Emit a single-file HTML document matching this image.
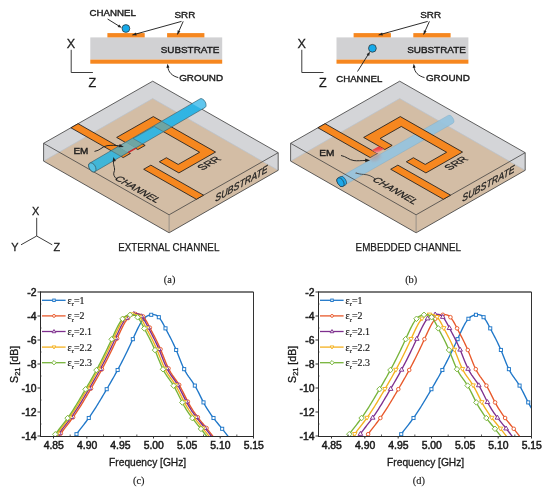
<!DOCTYPE html>
<html><head><meta charset="utf-8"><title>SRR channel figure</title>
<style>
html,body{margin:0;padding:0;background:#fff;}
svg{display:block;}
text{font-family:"Liberation Sans",Arial,sans-serif;fill:#1c1c1c;stroke:#1c1c1c;stroke-width:0.28px;}
.t9{font-size:9.8px;}
.t10{font-size:9.5px;stroke-width:0.4px;}
.t9i{font-size:9.8px;font-style:italic;}
.t11{font-size:12.6px;}
.tk{font-size:10.4px;stroke-width:0.5px;}
.al{font-size:10.2px;stroke-width:0.32px;}
.lg{font-family:"Liberation Serif","Times New Roman",serif;font-size:9.9px;stroke-width:0.2px;}
.cap{font-family:"Liberation Serif","Times New Roman",serif;font-size:10.4px;stroke-width:0.15px;}
</style></head>
<body>
<svg width="550" height="490" viewBox="0 0 550 490">
<defs>
<filter id="blur1" x="-50%" y="-50%" width="200%" height="200%"><feGaussianBlur stdDeviation="1.6"/></filter>
<linearGradient id="emgrad" x1="0" y1="0" x2="0.3" y2="1"><stop offset="0" stop-color="#e8262a"/><stop offset="0.55" stop-color="#f04a48"/><stop offset="1" stop-color="#f0a0a0"/></linearGradient>
</defs>
<rect width="550" height="490" fill="#fff"/>
<rect x="90.3" y="37.4" width="131.9" height="22.2" fill="#d1d1d3"/>
<rect x="90.3" y="59.6" width="131.9" height="4.1" fill="#f6871f"/>
<rect x="107.4" y="33.1" width="37.3" height="4.3" fill="#f6871f"/>
<rect x="167.1" y="33.1" width="37.3" height="4.3" fill="#f6871f"/>
<text x="160.7" y="52.9" class="t10" textLength="58.6" lengthAdjust="spacingAndGlyphs">SUBSTRATE</text>
<text x="179.2" y="80.9" class="t10" textLength="43.9" lengthAdjust="spacingAndGlyphs">GROUND</text>
<text x="174.5" y="18.2" class="t10" textLength="20.8" lengthAdjust="spacingAndGlyphs">SRR</text>
<line x1="181.5" y1="21.4" x2="132.4" y2="35" stroke="#222" stroke-width="0.95"/>
<polygon points="132.4,35 135.85,32.49 136.66,35.38" fill="#222"/>
<line x1="183.2" y1="21.4" x2="177.4" y2="34.5" stroke="#222" stroke-width="0.95"/>
<polygon points="177.4,34.5 177.65,30.24 180.39,31.45" fill="#222"/>
<path d="M178.3,77.6 C172,76 168.3,72 167.9,67" fill="none" stroke="#222" stroke-width="0.95"/>
<polygon points="167.5,63.8 169.46,67.59 166.48,67.95" fill="#222"/>
<polyline points="71.2,49.8 71.2,72.5 92.9,72.5" fill="none" stroke="#333" stroke-width="0.95"/>
<text x="66.8" y="48.4" class="t11">X</text>
<text x="88.5" y="86.6" class="t11">Z</text>
<circle cx="125.9" cy="28.5" r="3.9" fill="#16aaea" stroke="#2a2a2a" stroke-width="0.7"/>
<text x="89.5" y="16.4" class="t10" textLength="46.4" lengthAdjust="spacingAndGlyphs">CHANNEL</text>
<line x1="107.6" y1="19" x2="119.5" y2="26.4" stroke="#222" stroke-width="0.95"/>
<polygon points="121.8,27.8 117.61,26.97 119.19,24.42" fill="#222"/>
<rect x="336.5" y="37.4" width="131.9" height="22.2" fill="#d1d1d3"/>
<rect x="336.5" y="59.6" width="131.9" height="4.1" fill="#f6871f"/>
<rect x="353.6" y="33.1" width="37.3" height="4.3" fill="#f6871f"/>
<rect x="413.3" y="33.1" width="37.3" height="4.3" fill="#f6871f"/>
<text x="407.2" y="52.9" class="t10" textLength="58.6" lengthAdjust="spacingAndGlyphs">SUBSTRATE</text>
<text x="425.9" y="80.9" class="t10" textLength="43.9" lengthAdjust="spacingAndGlyphs">GROUND</text>
<text x="420.3" y="18.2" class="t10" textLength="20.8" lengthAdjust="spacingAndGlyphs">SRR</text>
<line x1="427.7" y1="21.4" x2="378.6" y2="35" stroke="#222" stroke-width="0.95"/>
<polygon points="378.6,35 382.05,32.49 382.86,35.38" fill="#222"/>
<line x1="429.4" y1="21.4" x2="423.6" y2="34.5" stroke="#222" stroke-width="0.95"/>
<polygon points="423.6,34.5 423.85,30.24 426.59,31.45" fill="#222"/>
<path d="M424.5,77.6 C418.2,76 414.5,72 414.1,67" fill="none" stroke="#222" stroke-width="0.95"/>
<polygon points="413.7,63.8 415.66,67.59 412.68,67.95" fill="#222"/>
<polyline points="301.8,49.8 301.8,72.5 323.5,72.5" fill="none" stroke="#333" stroke-width="0.95"/>
<text x="297.4" y="48.4" class="t11">X</text>
<text x="319.1" y="86.6" class="t11">Z</text>
<circle cx="372.4" cy="48.3" r="3.9" fill="#16aaea" stroke="#2a2a2a" stroke-width="0.7"/>
<text x="336.3" y="81.5" class="t10" textLength="46" lengthAdjust="spacingAndGlyphs">CHANNEL</text>
<line x1="357.5" y1="71.5" x2="368.5" y2="54" stroke="#222" stroke-width="0.95"/>
<polygon points="370,51.7 369.13,55.88 366.6,54.28" fill="#222"/>
<polygon points="152.7,81.2 278.2,152.7 278.2,170.3 169.1,232.8 43.6,161.1 43.6,143.3" fill="#d4d5d8"/>
<polygon points="152.7,98.5 278.2,170.3 169.1,232.8 43.6,161.1" fill="#d3bda5"/>
<polygon points="43.6,143.3 169.1,214.8 169.1,232.8 43.6,161.1" fill="#d5bfa3" opacity="0.0"/>
<polyline points="43.6,161.1 152.7,98.5 278.2,170.3" fill="none" stroke="#b9c3cf" stroke-width="0.7"/>
<polygon points="152.7,81.2 278.2,152.7 278.2,170.3 169.1,232.8 43.6,161.1 43.6,143.3" fill="none" stroke="#3b3b3b" stroke-width="0.8" stroke-linejoin="round"/>
<polyline points="43.6,143.3 169.1,214.8 278.2,152.7" fill="none" stroke="#3b3b3b" stroke-width="0.75"/>
<line x1="169.1" y1="214.8" x2="169.1" y2="232.8" stroke="#8a8580" stroke-width="0.8"/>
<polygon points="78.08,123.68 130.41,153.49 123.21,157.59 70.88,127.78" fill="#f6871f" stroke="#1e1e1e" stroke-width="0.85" stroke-linejoin="round"/>
<polygon points="150.87,165.15 203.58,195.18 196.38,199.27 143.66,169.25" fill="#f6871f" stroke="#1e1e1e" stroke-width="0.85" stroke-linejoin="round"/>
<polygon points="153.31,116.59 215.56,152.05 178.9,172.92 159.32,161.76 166.41,157.73 178.21,164.45 199.59,152.28 154.29,126.46 133.12,138.51 145.17,145.38 137.86,149.54 116.65,137.45" fill="#f6871f" stroke="#1e1e1e" stroke-width="0.85" stroke-linejoin="round"/>
<linearGradient id="chgrad" gradientUnits="userSpaceOnUse" x1="92.3" y1="167.4" x2="202.5" y2="103.2"><stop offset="0" stop-color="#42b6d6"/><stop offset="1" stop-color="#2db4e6"/></linearGradient>
<clipPath id="chclip"><path d="M94.82,171.72 L205.02,107.52 A5,3 59.78 0 0 199.98,98.88 L89.78,163.08 A5,3 59.78 0 0 94.82,171.72 Z"/></clipPath>
<path d="M94.82,171.72 L205.02,107.52 A5,3 59.78 0 0 199.98,98.88 L89.78,163.08 A5,3 59.78 0 0 94.82,171.72 Z" fill="url(#chgrad)"/>
<g clip-path="url(#chclip)">
<polygon points="152.7,81.2 352.7,195.14 352.7,21.2 152.7,21.2" fill="#60c6ee"/>
<polygon points="78.08,123.68 130.41,153.49 123.21,157.59 70.88,127.78" fill="#6ea5a3" stroke="#4a6a70" stroke-width="0.6"/>
<polygon points="150.87,165.15 203.58,195.18 196.38,199.27 143.66,169.25" fill="#6ea5a3" stroke="#4a6a70" stroke-width="0.6"/>
<polygon points="153.31,116.59 215.56,152.05 178.9,172.92 159.32,161.76 166.41,157.73 178.21,164.45 199.59,152.28 154.29,126.46 133.12,138.51 145.17,145.38 137.86,149.54 116.65,137.45" fill="#6ea5a3" stroke="#4a6a70" stroke-width="0.6"/>
<polygon points="123.25,140.84 137.44,148.92 129.58,153.39 115.4,145.31" fill="#7fb0b0"/>
</g>
<path d="M94.82,171.72 L205.02,107.52 A5,3 59.78 0 0 199.98,98.88 L89.78,163.08 A5,3 59.78 0 0 94.82,171.72 Z" fill="none" stroke="#3a5560" stroke-width="0.6"/>
<polygon points="135.3,147.71 136.68,148.49 128.94,152.9 127.56,152.11" fill="#cc2a2a"/>
<ellipse cx="92.3" cy="167.4" rx="5.0" ry="3.1" transform="rotate(59.78 92.3 167.4)" fill="#58c2e2" stroke="#34505a" stroke-width="0.65"/>
<polygon points="399.7,81.2 525.2,152.7 525.2,170.3 416.1,232.8 290.6,161.1 290.6,143.3" fill="#d4d5d8"/>
<polygon points="399.7,98.5 525.2,170.3 416.1,232.8 290.6,161.1" fill="#d3bda5"/>
<polygon points="290.6,143.3 416.1,214.8 416.1,232.8 290.6,161.1" fill="#d5bfa3" opacity="0.0"/>
<polyline points="290.6,161.1 399.7,98.5 525.2,170.3" fill="none" stroke="#b9c3cf" stroke-width="0.7"/>
<path d="M343.78,185.6 L452.78,123.4 A4.6,2.8 60.29 0 0 448.22,115.4 L339.22,177.6 A4.6,2.8 60.29 0 0 343.78,185.6 Z" fill="#95c3de" fill-opacity="0.92" stroke="#7aa8c4" stroke-width="0.4"/>
<polygon points="399.7,81.2 525.2,152.7 525.2,170.3 416.1,232.8 290.6,161.1 290.6,143.3" fill="none" stroke="#3b3b3b" stroke-width="0.8" stroke-linejoin="round"/>
<polyline points="290.6,143.3 416.1,214.8 525.2,152.7" fill="none" stroke="#3b3b3b" stroke-width="0.75"/>
<line x1="416.1" y1="214.8" x2="416.1" y2="232.8" stroke="#8a8580" stroke-width="0.8"/>
<polygon points="325.08,123.68 377.41,153.49 370.21,157.59 317.88,127.78" fill="#f6871f" stroke="#1e1e1e" stroke-width="0.85" stroke-linejoin="round"/>
<polygon points="397.87,165.15 450.58,195.18 443.38,199.27 390.67,169.25" fill="#f6871f" stroke="#1e1e1e" stroke-width="0.85" stroke-linejoin="round"/>
<polygon points="400.31,116.59 462.56,152.05 425.9,172.92 406.32,161.76 413.41,157.73 425.21,164.45 446.59,152.28 401.29,126.46 380.12,138.51 392.17,145.38 384.86,149.54 363.65,137.45" fill="#f6871f" stroke="#1e1e1e" stroke-width="0.85" stroke-linejoin="round"/>
<ellipse cx="375.53" cy="157.07" rx="5.5" ry="3.4" transform="rotate(-30 375.53 157.07)" fill="#b49a9a" opacity="0.6" filter="url(#blur1)"/>
<polygon points="378.96,146.18 384.11,149.11 376.91,153.21 371.76,150.27" fill="url(#emgrad)"/>
<path d="M342.89,186.45 L345.32,185.06 A4.9,2.9 60.29 0 0 340.46,176.55 L338.03,177.94 A4.9,2.9 60.29 0 0 342.89,186.45 Z" fill="#1ea8e8" stroke="#24323c" stroke-width="0.6"/>
<ellipse cx="340.46" cy="182.19" rx="4.9" ry="2.9" transform="rotate(60.29 340.46 182.19)" fill="#1ea8e8" stroke="#24323c" stroke-width="0.6"/>
<text x="73.4" y="153.7" class="t10" textLength="14.9" lengthAdjust="spacingAndGlyphs">EM</text>
<path d="M94.5,151.4 C100,150.6 102,146.6 107,145.7 C111,145.1 115.5,145.2 120,146" fill="none" stroke="#222" stroke-width="0.95"/>
<polygon points="123.8,147 118.69,147.34 119.72,143.9" fill="#222"/>
<path d="M114,160.5 C112,164 116,168 114,172 C113,174.5 114.5,177 116.2,178.5" fill="none" stroke="#222" stroke-width="0.95"/>
<polygon points="113.4,157 115.93,160.98 112.6,161.65" fill="#222"/>
<text transform="matrix(0.8691,0.4952,-0.8692,0.4947,134.9,191.1)" text-anchor="middle" class="t9" style="font-size:10.2px">CHANNEL</text>
<text transform="matrix(0.8692,-0.4947,0.8691,0.4952,212.3,165)" text-anchor="middle" class="t9" style="font-size:10.6px">SRR</text>
<text transform="matrix(0.8675,-0.4974,0,1,241.5,187)" text-anchor="middle" class="t9i" style="font-size:10.2px">SUBSTRATE</text>
<text x="319.2" y="156.3" class="t10" textLength="15.1" lengthAdjust="spacingAndGlyphs">EM</text>
<path d="M341,155.5 C346,156.3 349,160 354,160.6 C357,161 362,160.6 366,160.4" fill="none" stroke="#222" stroke-width="0.95"/>
<polygon points="370,160.2 365.28,162.19 365.13,158.59" fill="#222"/>
<path d="M375.5,179.2 C372,176.2 368.5,174.6 363.5,174.4 C360.5,174.3 358.5,173.7 356.5,173.2" fill="none" stroke="#444" stroke-width="0.9"/>
<circle cx="356.3" cy="173.2" r="0.9" fill="#777"/>
<text transform="matrix(0.8691,0.4952,-0.8692,0.4947,392.6,192.4)" text-anchor="middle" class="t9" style="font-size:10.2px">CHANNEL</text>
<text transform="matrix(0.8692,-0.4947,0.8691,0.4952,459.3,165)" text-anchor="middle" class="t9" style="font-size:10.6px">SRR</text>
<text transform="matrix(0.8675,-0.4974,0,1,488.5,187)" text-anchor="middle" class="t9i" style="font-size:10.2px">SUBSTRATE</text>
<polyline points="36.7,217.8 36.7,236 21,244.8" fill="none" stroke="#333" stroke-width="0.95"/>
<line x1="36.7" y1="236" x2="52.2" y2="244.8" stroke="#333" stroke-width="0.95"/>
<text x="35.6" y="215.2" text-anchor="middle" class="t9" style="font-size:10.9px">X</text>
<text x="14.9" y="250.9" text-anchor="middle" class="t9" style="font-size:10.9px">Y</text>
<text x="56.8" y="250.9" text-anchor="middle" class="t9" style="font-size:10.9px">Z</text>
<text x="118.2" y="250.8" class="t10" style="font-size:10.1px;stroke-width:0.25px" textLength="101.2" lengthAdjust="spacingAndGlyphs">EXTERNAL CHANNEL</text>
<text x="355.6" y="250.7" class="t10" style="font-size:10.1px;stroke-width:0.25px" textLength="105.4" lengthAdjust="spacingAndGlyphs">EMBEDDED CHANNEL</text>
<text x="169.6" y="283.2" text-anchor="middle" class="cap">(a)</text>
<text x="411.2" y="283.2" text-anchor="middle" class="cap">(b)</text>
<clipPath id="clip0"><rect x="40" y="292" width="213.5" height="144"/></clipPath>
<g clip-path="url(#clip0)">
<polyline points="51.23,470.8 52.22,469.65 53.21,468.45 54.2,467.2 55.19,465.91 56.17,464.58 57.16,463.22 58.15,461.82 59.14,460.39 60.13,458.94 61.12,457.47 62.1,455.98 63.09,454.47 64.08,452.95 65.07,451.42 66.06,449.89 67.05,448.35 68.03,446.82 69.02,445.29 70.01,443.76 71,442.25 71.99,440.76 72.98,439.28 73.96,437.82 74.95,436.39 75.94,434.98 76.93,433.61 77.92,432.27 78.91,430.95 79.89,429.65 80.88,428.37 81.87,427.09 82.86,425.82 83.85,424.55 84.83,423.27 85.82,421.98 86.81,420.67 87.8,419.33 88.79,417.97 89.78,416.57 90.76,415.14 91.75,413.68 92.74,412.2 93.73,410.68 94.72,409.14 95.71,407.58 96.69,405.99 97.68,404.39 98.67,402.77 99.66,401.13 100.65,399.48 101.64,397.82 102.62,396.15 103.61,394.47 104.6,392.79 105.59,391.1 106.58,389.41 107.57,387.72 108.55,386.03 109.54,384.33 110.53,382.63 111.52,380.92 112.51,379.2 113.49,377.46 114.48,375.71 115.47,373.94 116.46,372.15 117.45,370.34 118.44,368.51 119.42,366.65 120.41,364.77 121.4,362.86 122.39,360.93 123.38,358.97 124.37,357 125.35,355 126.34,352.98 127.33,350.93 128.32,348.87 129.31,346.78 130.3,344.67 131.28,342.54 132.27,340.39 133.26,338.22 134.25,336.04 135.24,333.87 136.23,331.73 137.21,329.65 138.2,327.63 139.19,325.72 140.18,323.92 141.17,322.25 142.16,320.75 143.14,319.42 144.13,318.29 145.12,317.37 146.11,316.63 147.1,316.04 148.08,315.59 149.07,315.25 150.06,315.01 151.05,314.83 152.04,314.7 153.03,314.64 154.01,314.67 155,314.83 155.99,315.14 156.98,315.65 157.97,316.37 158.96,317.33 159.94,318.56 160.93,320.01 161.92,321.65 162.91,323.41 163.9,325.27 164.89,327.17 165.87,329.08 166.86,330.96 167.85,332.84 168.84,334.71 169.83,336.61 170.82,338.53 171.8,340.49 172.79,342.51 173.78,344.59 174.77,346.75 175.76,349 176.74,351.35 177.73,353.78 178.72,356.27 179.71,358.77 180.7,361.24 181.69,363.65 182.67,365.95 183.66,368.12 184.65,370.11 185.64,371.92 186.63,373.58 187.62,375.13 188.6,376.58 189.59,377.97 190.58,379.33 191.57,380.7 192.56,382.09 193.55,383.55 194.53,385.11 195.52,386.78 196.51,388.57 197.5,390.45 198.49,392.39 199.48,394.38 200.46,396.38 201.45,398.38 202.44,400.35 203.43,402.26 204.42,404.1 205.4,405.86 206.39,407.54 207.38,409.16 208.37,410.72 209.36,412.22 210.35,413.67 211.33,415.07 212.32,416.43 213.31,417.75 214.3,419.04 215.29,420.31 216.28,421.55 217.26,422.78 218.25,423.99 219.24,425.2 220.23,426.41 221.22,427.62 222.21,428.85 223.19,430.08 224.18,431.34 225.17,432.6 226.16,433.87 227.15,435.16 228.14,436.45 229.12,437.75 230.11,439.06 231.1,440.37 232.09,441.69 233.08,443.01 234.07,444.33 235.05,445.65 236.04,446.97 237.03,448.29 238.02,449.61 239.01,450.93 239.99,452.24 240.98,453.54 241.97,454.84 242.96,456.12 243.95,457.4 244.94,458.67 245.92,459.93 246.91,461.17 247.9,462.4" fill="none" stroke="#1f77c9" stroke-width="1.35" stroke-linejoin="round"/>
<rect x="74.95" y="432.65" width="3.1" height="3.1" fill="#fff" stroke="#1f77c9" stroke-width="0.95"/>
<rect x="87.22" y="416.45" width="3.1" height="3.1" fill="#fff" stroke="#1f77c9" stroke-width="0.95"/>
<rect x="105.15" y="387.65" width="3.1" height="3.1" fill="#fff" stroke="#1f77c9" stroke-width="0.95"/>
<rect x="116.08" y="368.45" width="3.1" height="3.1" fill="#fff" stroke="#1f77c9" stroke-width="0.95"/>
<rect x="131.28" y="337.61" width="3.1" height="3.1" fill="#fff" stroke="#1f77c9" stroke-width="0.95"/>
<rect x="142.15" y="317.21" width="3.1" height="3.1" fill="#fff" stroke="#1f77c9" stroke-width="0.95"/>
<rect x="149.68" y="313.25" width="3.1" height="3.1" fill="#fff" stroke="#1f77c9" stroke-width="0.95"/>
<rect x="157.28" y="315.65" width="3.1" height="3.1" fill="#fff" stroke="#1f77c9" stroke-width="0.95"/>
<rect x="163.95" y="326.81" width="3.1" height="3.1" fill="#fff" stroke="#1f77c9" stroke-width="0.95"/>
<rect x="174.62" y="348.41" width="3.1" height="3.1" fill="#fff" stroke="#1f77c9" stroke-width="0.95"/>
<rect x="182.62" y="367.61" width="3.1" height="3.1" fill="#fff" stroke="#1f77c9" stroke-width="0.95"/>
<rect x="193.28" y="384.05" width="3.1" height="3.1" fill="#fff" stroke="#1f77c9" stroke-width="0.95"/>
<rect x="201.95" y="400.85" width="3.1" height="3.1" fill="#fff" stroke="#1f77c9" stroke-width="0.95"/>
<rect x="211.95" y="416.45" width="3.1" height="3.1" fill="#fff" stroke="#1f77c9" stroke-width="0.95"/>
<rect x="220.62" y="427.25" width="3.1" height="3.1" fill="#fff" stroke="#1f77c9" stroke-width="0.95"/>
<polyline points="35.57,470.08 36.55,468.93 37.54,467.73 38.53,466.48 39.52,465.19 40.51,463.86 41.5,462.5 42.48,461.1 43.47,459.67 44.46,458.22 45.45,456.75 46.44,455.26 47.43,453.75 48.41,452.23 49.4,450.7 50.39,449.17 51.38,447.63 52.37,446.1 53.36,444.57 54.34,443.04 55.33,441.53 56.32,440.04 57.31,438.56 58.3,437.1 59.29,435.67 60.27,434.26 61.26,432.89 62.25,431.55 63.24,430.23 64.23,428.93 65.21,427.65 66.2,426.37 67.19,425.1 68.18,423.83 69.17,422.55 70.16,421.26 71.14,419.95 72.13,418.61 73.12,417.25 74.11,415.85 75.1,414.42 76.09,412.96 77.07,411.48 78.06,409.96 79.05,408.42 80.04,406.86 81.03,405.27 82.02,403.67 83,402.05 83.99,400.41 84.98,398.76 85.97,397.1 86.96,395.43 87.95,393.75 88.93,392.07 89.92,390.38 90.91,388.69 91.9,387 92.89,385.31 93.88,383.61 94.86,381.91 95.85,380.2 96.84,378.48 97.83,376.74 98.82,374.99 99.8,373.22 100.79,371.43 101.78,369.62 102.77,367.79 103.76,365.93 104.75,364.05 105.73,362.14 106.72,360.21 107.71,358.25 108.7,356.28 109.69,354.28 110.68,352.26 111.66,350.21 112.65,348.15 113.64,346.06 114.63,343.95 115.62,341.82 116.61,339.67 117.59,337.5 118.58,335.32 119.57,333.15 120.56,331.01 121.55,328.93 122.54,326.91 123.52,325 124.51,323.2 125.5,321.53 126.49,320.03 127.48,318.7 128.46,317.57 129.45,316.65 130.44,315.91 131.43,315.32 132.42,314.87 133.41,314.53 134.39,314.29 135.38,314.11 136.37,313.98 137.36,313.92 138.35,313.95 139.34,314.11 140.32,314.42 141.31,314.93 142.3,315.65 143.29,316.61 144.28,317.84 145.27,319.29 146.25,320.93 147.24,322.69 148.23,324.55 149.22,326.45 150.21,328.36 151.2,330.24 152.18,332.12 153.17,333.99 154.16,335.89 155.15,337.81 156.14,339.77 157.12,341.79 158.11,343.87 159.1,346.03 160.09,348.28 161.08,350.63 162.07,353.06 163.05,355.55 164.04,358.05 165.03,360.52 166.02,362.93 167.01,365.23 168,367.4 168.98,369.39 169.97,371.2 170.96,372.86 171.95,374.41 172.94,375.86 173.93,377.25 174.91,378.61 175.9,379.98 176.89,381.37 177.88,382.83 178.87,384.39 179.86,386.06 180.84,387.85 181.83,389.73 182.82,391.67 183.81,393.66 184.8,395.66 185.79,397.66 186.77,399.63 187.76,401.54 188.75,403.38 189.74,405.14 190.73,406.82 191.71,408.44 192.7,410 193.69,411.5 194.68,412.95 195.67,414.35 196.66,415.71 197.64,417.03 198.63,418.32 199.62,419.59 200.61,420.83 201.6,422.06 202.59,423.27 203.57,424.48 204.56,425.69 205.55,426.9 206.54,428.13 207.53,429.36 208.52,430.62 209.5,431.88 210.49,433.15 211.48,434.44 212.47,435.73 213.46,437.03 214.45,438.34 215.43,439.65 216.42,440.97 217.41,442.29 218.4,443.61 219.39,444.93 220.37,446.25 221.36,447.57 222.35,448.89 223.34,450.21 224.33,451.52 225.32,452.82 226.3,454.12 227.29,455.4 228.28,456.68 229.27,457.95 230.26,459.21 231.25,460.45 232.23,461.68" fill="none" stroke="#e8592b" stroke-width="1.35" stroke-linejoin="round"/>
<circle cx="60.83" cy="433.48" r="1.8" fill="#fff" stroke="#e8592b" stroke-width="0.95"/>
<circle cx="73.1" cy="417.28" r="1.8" fill="#fff" stroke="#e8592b" stroke-width="0.95"/>
<circle cx="91.03" cy="388.48" r="1.8" fill="#fff" stroke="#e8592b" stroke-width="0.95"/>
<circle cx="101.97" cy="369.28" r="1.8" fill="#fff" stroke="#e8592b" stroke-width="0.95"/>
<circle cx="117.17" cy="338.44" r="1.8" fill="#fff" stroke="#e8592b" stroke-width="0.95"/>
<circle cx="128.03" cy="318.04" r="1.8" fill="#fff" stroke="#e8592b" stroke-width="0.95"/>
<circle cx="135.57" cy="314.08" r="1.8" fill="#fff" stroke="#e8592b" stroke-width="0.95"/>
<circle cx="143.17" cy="316.48" r="1.8" fill="#fff" stroke="#e8592b" stroke-width="0.95"/>
<circle cx="149.83" cy="327.64" r="1.8" fill="#fff" stroke="#e8592b" stroke-width="0.95"/>
<circle cx="160.5" cy="349.24" r="1.8" fill="#fff" stroke="#e8592b" stroke-width="0.95"/>
<circle cx="168.5" cy="368.44" r="1.8" fill="#fff" stroke="#e8592b" stroke-width="0.95"/>
<circle cx="179.17" cy="384.88" r="1.8" fill="#fff" stroke="#e8592b" stroke-width="0.95"/>
<circle cx="187.83" cy="401.68" r="1.8" fill="#fff" stroke="#e8592b" stroke-width="0.95"/>
<circle cx="197.83" cy="417.28" r="1.8" fill="#fff" stroke="#e8592b" stroke-width="0.95"/>
<circle cx="206.5" cy="428.08" r="1.8" fill="#fff" stroke="#e8592b" stroke-width="0.95"/>
<polyline points="33.9,469.84 34.89,468.69 35.88,467.49 36.86,466.24 37.85,464.95 38.84,463.62 39.83,462.26 40.82,460.86 41.81,459.43 42.79,457.98 43.78,456.51 44.77,455.02 45.76,453.51 46.75,451.99 47.74,450.46 48.72,448.93 49.71,447.39 50.7,445.86 51.69,444.33 52.68,442.8 53.67,441.29 54.65,439.8 55.64,438.32 56.63,436.86 57.62,435.43 58.61,434.02 59.6,432.65 60.58,431.31 61.57,429.99 62.56,428.69 63.55,427.41 64.54,426.13 65.52,424.86 66.51,423.59 67.5,422.31 68.49,421.02 69.48,419.71 70.47,418.37 71.45,417.01 72.44,415.61 73.43,414.18 74.42,412.72 75.41,411.24 76.4,409.72 77.38,408.18 78.37,406.62 79.36,405.03 80.35,403.43 81.34,401.81 82.33,400.17 83.31,398.52 84.3,396.86 85.29,395.19 86.28,393.51 87.27,391.83 88.26,390.14 89.24,388.45 90.23,386.76 91.22,385.07 92.21,383.37 93.2,381.67 94.18,379.96 95.17,378.24 96.16,376.5 97.15,374.75 98.14,372.98 99.13,371.19 100.11,369.38 101.1,367.55 102.09,365.69 103.08,363.81 104.07,361.9 105.06,359.97 106.04,358.01 107.03,356.04 108.02,354.04 109.01,352.02 110,349.97 110.99,347.91 111.97,345.82 112.96,343.71 113.95,341.58 114.94,339.43 115.93,337.26 116.92,335.08 117.9,332.91 118.89,330.77 119.88,328.69 120.87,326.67 121.86,324.76 122.85,322.96 123.83,321.29 124.82,319.79 125.81,318.46 126.8,317.33 127.79,316.41 128.77,315.67 129.76,315.08 130.75,314.63 131.74,314.29 132.73,314.05 133.72,313.87 134.7,313.74 135.69,313.68 136.68,313.71 137.67,313.87 138.66,314.18 139.65,314.69 140.63,315.41 141.62,316.37 142.61,317.6 143.6,319.05 144.59,320.69 145.58,322.45 146.56,324.31 147.55,326.21 148.54,328.12 149.53,330 150.52,331.88 151.51,333.75 152.49,335.65 153.48,337.57 154.47,339.53 155.46,341.55 156.45,343.63 157.43,345.79 158.42,348.04 159.41,350.39 160.4,352.82 161.39,355.31 162.38,357.81 163.36,360.28 164.35,362.69 165.34,364.99 166.33,367.16 167.32,369.15 168.31,370.96 169.29,372.62 170.28,374.17 171.27,375.62 172.26,377.01 173.25,378.37 174.24,379.74 175.22,381.13 176.21,382.59 177.2,384.15 178.19,385.82 179.18,387.61 180.17,389.49 181.15,391.43 182.14,393.42 183.13,395.42 184.12,397.42 185.11,399.39 186.09,401.3 187.08,403.14 188.07,404.9 189.06,406.58 190.05,408.2 191.04,409.76 192.02,411.26 193.01,412.71 194,414.11 194.99,415.47 195.98,416.79 196.97,418.08 197.95,419.35 198.94,420.59 199.93,421.82 200.92,423.03 201.91,424.24 202.9,425.45 203.88,426.66 204.87,427.89 205.86,429.12 206.85,430.38 207.84,431.64 208.83,432.91 209.81,434.2 210.8,435.49 211.79,436.79 212.78,438.1 213.77,439.41 214.76,440.73 215.74,442.05 216.73,443.37 217.72,444.69 218.71,446.01 219.7,447.33 220.68,448.65 221.67,449.97 222.66,451.28 223.65,452.58 224.64,453.88 225.63,455.16 226.61,456.44 227.6,457.71 228.59,458.97 229.58,460.21 230.57,461.44" fill="none" stroke="#7e2f8e" stroke-width="1.35" stroke-linejoin="round"/>
<polygon points="59.17,430.79 61.49,434.76 56.84,434.76" fill="#fff" stroke="#7e2f8e" stroke-width="0.95" stroke-linejoin="round"/>
<polygon points="71.43,414.59 73.76,418.56 69.11,418.56" fill="#fff" stroke="#7e2f8e" stroke-width="0.95" stroke-linejoin="round"/>
<polygon points="89.37,385.79 91.69,389.76 87.04,389.76" fill="#fff" stroke="#7e2f8e" stroke-width="0.95" stroke-linejoin="round"/>
<polygon points="100.3,366.59 102.63,370.56 97.97,370.56" fill="#fff" stroke="#7e2f8e" stroke-width="0.95" stroke-linejoin="round"/>
<polygon points="115.5,335.75 117.83,339.72 113.17,339.72" fill="#fff" stroke="#7e2f8e" stroke-width="0.95" stroke-linejoin="round"/>
<polygon points="126.37,315.35 128.69,319.32 124.04,319.32" fill="#fff" stroke="#7e2f8e" stroke-width="0.95" stroke-linejoin="round"/>
<polygon points="133.9,311.39 136.23,315.36 131.57,315.36" fill="#fff" stroke="#7e2f8e" stroke-width="0.95" stroke-linejoin="round"/>
<polygon points="141.5,313.79 143.83,317.76 139.17,317.76" fill="#fff" stroke="#7e2f8e" stroke-width="0.95" stroke-linejoin="round"/>
<polygon points="148.17,324.95 150.49,328.92 145.84,328.92" fill="#fff" stroke="#7e2f8e" stroke-width="0.95" stroke-linejoin="round"/>
<polygon points="158.83,346.55 161.16,350.52 156.51,350.52" fill="#fff" stroke="#7e2f8e" stroke-width="0.95" stroke-linejoin="round"/>
<polygon points="166.83,365.75 169.16,369.72 164.51,369.72" fill="#fff" stroke="#7e2f8e" stroke-width="0.95" stroke-linejoin="round"/>
<polygon points="177.5,382.19 179.83,386.16 175.17,386.16" fill="#fff" stroke="#7e2f8e" stroke-width="0.95" stroke-linejoin="round"/>
<polygon points="186.17,398.99 188.49,402.96 183.84,402.96" fill="#fff" stroke="#7e2f8e" stroke-width="0.95" stroke-linejoin="round"/>
<polygon points="196.17,414.59 198.49,418.56 193.84,418.56" fill="#fff" stroke="#7e2f8e" stroke-width="0.95" stroke-linejoin="round"/>
<polygon points="204.83,425.39 207.16,429.36 202.51,429.36" fill="#fff" stroke="#7e2f8e" stroke-width="0.95" stroke-linejoin="round"/>
<polyline points="31.9,470.32 32.89,469.17 33.88,467.97 34.86,466.72 35.85,465.43 36.84,464.1 37.83,462.74 38.82,461.34 39.81,459.91 40.79,458.46 41.78,456.99 42.77,455.5 43.76,453.99 44.75,452.47 45.74,450.94 46.72,449.41 47.71,447.87 48.7,446.34 49.69,444.81 50.68,443.28 51.67,441.77 52.65,440.28 53.64,438.8 54.63,437.34 55.62,435.91 56.61,434.5 57.6,433.13 58.58,431.79 59.57,430.47 60.56,429.17 61.55,427.89 62.54,426.61 63.52,425.34 64.51,424.07 65.5,422.79 66.49,421.5 67.48,420.19 68.47,418.85 69.45,417.49 70.44,416.09 71.43,414.66 72.42,413.2 73.41,411.72 74.4,410.2 75.38,408.66 76.37,407.1 77.36,405.51 78.35,403.91 79.34,402.29 80.33,400.65 81.31,399 82.3,397.34 83.29,395.67 84.28,393.99 85.27,392.31 86.26,390.62 87.24,388.93 88.23,387.24 89.22,385.55 90.21,383.85 91.2,382.15 92.18,380.44 93.17,378.72 94.16,376.98 95.15,375.23 96.14,373.46 97.13,371.67 98.11,369.86 99.1,368.03 100.09,366.17 101.08,364.29 102.07,362.38 103.06,360.45 104.04,358.49 105.03,356.52 106.02,354.52 107.01,352.5 108,350.45 108.99,348.39 109.97,346.3 110.96,344.19 111.95,342.06 112.94,339.91 113.93,337.74 114.92,335.56 115.9,333.39 116.89,331.25 117.88,329.17 118.87,327.15 119.86,325.24 120.85,323.44 121.83,321.77 122.82,320.27 123.81,318.94 124.8,317.81 125.79,316.89 126.77,316.15 127.76,315.56 128.75,315.11 129.74,314.77 130.73,314.53 131.72,314.35 132.7,314.22 133.69,314.16 134.68,314.19 135.67,314.35 136.66,314.66 137.65,315.17 138.63,315.89 139.62,316.85 140.61,318.08 141.6,319.53 142.59,321.17 143.58,322.93 144.56,324.79 145.55,326.69 146.54,328.6 147.53,330.48 148.52,332.36 149.51,334.23 150.49,336.13 151.48,338.05 152.47,340.01 153.46,342.03 154.45,344.11 155.43,346.27 156.42,348.52 157.41,350.87 158.4,353.3 159.39,355.79 160.38,358.29 161.36,360.76 162.35,363.17 163.34,365.47 164.33,367.64 165.32,369.63 166.31,371.44 167.29,373.1 168.28,374.65 169.27,376.1 170.26,377.49 171.25,378.85 172.24,380.22 173.22,381.61 174.21,383.07 175.2,384.63 176.19,386.3 177.18,388.09 178.17,389.97 179.15,391.91 180.14,393.9 181.13,395.9 182.12,397.9 183.11,399.87 184.09,401.78 185.08,403.62 186.07,405.38 187.06,407.06 188.05,408.68 189.04,410.24 190.02,411.74 191.01,413.19 192,414.59 192.99,415.95 193.98,417.27 194.97,418.56 195.95,419.83 196.94,421.07 197.93,422.3 198.92,423.51 199.91,424.72 200.9,425.93 201.88,427.14 202.87,428.37 203.86,429.6 204.85,430.86 205.84,432.12 206.83,433.39 207.81,434.68 208.8,435.97 209.79,437.27 210.78,438.58 211.77,439.89 212.76,441.21 213.74,442.53 214.73,443.85 215.72,445.17 216.71,446.49 217.7,447.81 218.68,449.13 219.67,450.45 220.66,451.76 221.65,453.06 222.64,454.36 223.63,455.64 224.61,456.92 225.6,458.19 226.59,459.45 227.58,460.69 228.57,461.92" fill="none" stroke="#f4b11f" stroke-width="1.35" stroke-linejoin="round"/>
<polygon points="57.17,436.07 59.4,432.26 54.93,432.26" fill="#fff" stroke="#f4b11f" stroke-width="0.95" stroke-linejoin="round"/>
<polygon points="69.43,419.87 71.67,416.06 67.2,416.06" fill="#fff" stroke="#f4b11f" stroke-width="0.95" stroke-linejoin="round"/>
<polygon points="87.37,391.07 89.6,387.26 85.13,387.26" fill="#fff" stroke="#f4b11f" stroke-width="0.95" stroke-linejoin="round"/>
<polygon points="98.3,371.87 100.53,368.06 96.07,368.06" fill="#fff" stroke="#f4b11f" stroke-width="0.95" stroke-linejoin="round"/>
<polygon points="113.5,341.03 115.73,337.22 111.27,337.22" fill="#fff" stroke="#f4b11f" stroke-width="0.95" stroke-linejoin="round"/>
<polygon points="124.37,320.63 126.6,316.82 122.13,316.82" fill="#fff" stroke="#f4b11f" stroke-width="0.95" stroke-linejoin="round"/>
<polygon points="131.9,316.67 134.13,312.86 129.67,312.86" fill="#fff" stroke="#f4b11f" stroke-width="0.95" stroke-linejoin="round"/>
<polygon points="139.5,319.07 141.73,315.26 137.27,315.26" fill="#fff" stroke="#f4b11f" stroke-width="0.95" stroke-linejoin="round"/>
<polygon points="146.17,330.23 148.4,326.42 143.93,326.42" fill="#fff" stroke="#f4b11f" stroke-width="0.95" stroke-linejoin="round"/>
<polygon points="156.83,351.83 159.07,348.02 154.6,348.02" fill="#fff" stroke="#f4b11f" stroke-width="0.95" stroke-linejoin="round"/>
<polygon points="164.83,371.03 167.07,367.22 162.6,367.22" fill="#fff" stroke="#f4b11f" stroke-width="0.95" stroke-linejoin="round"/>
<polygon points="175.5,387.47 177.73,383.66 173.27,383.66" fill="#fff" stroke="#f4b11f" stroke-width="0.95" stroke-linejoin="round"/>
<polygon points="184.17,404.27 186.4,400.46 181.93,400.46" fill="#fff" stroke="#f4b11f" stroke-width="0.95" stroke-linejoin="round"/>
<polygon points="194.17,419.87 196.4,416.06 191.93,416.06" fill="#fff" stroke="#f4b11f" stroke-width="0.95" stroke-linejoin="round"/>
<polygon points="202.83,430.67 205.07,426.86 200.6,426.86" fill="#fff" stroke="#f4b11f" stroke-width="0.95" stroke-linejoin="round"/>
<polyline points="30.03,470.92 31.02,469.77 32.01,468.57 33,467.32 33.99,466.03 34.97,464.7 35.96,463.34 36.95,461.94 37.94,460.51 38.93,459.06 39.92,457.59 40.9,456.1 41.89,454.59 42.88,453.07 43.87,451.54 44.86,450.01 45.85,448.47 46.83,446.94 47.82,445.41 48.81,443.88 49.8,442.37 50.79,440.88 51.78,439.4 52.76,437.94 53.75,436.51 54.74,435.1 55.73,433.73 56.72,432.39 57.71,431.07 58.69,429.77 59.68,428.49 60.67,427.21 61.66,425.94 62.65,424.67 63.63,423.39 64.62,422.1 65.61,420.79 66.6,419.45 67.59,418.09 68.58,416.69 69.56,415.26 70.55,413.8 71.54,412.32 72.53,410.8 73.52,409.26 74.51,407.7 75.49,406.11 76.48,404.51 77.47,402.89 78.46,401.25 79.45,399.6 80.44,397.94 81.42,396.27 82.41,394.59 83.4,392.91 84.39,391.22 85.38,389.53 86.37,387.84 87.35,386.15 88.34,384.45 89.33,382.75 90.32,381.04 91.31,379.32 92.29,377.58 93.28,375.83 94.27,374.06 95.26,372.27 96.25,370.46 97.24,368.63 98.22,366.77 99.21,364.89 100.2,362.98 101.19,361.05 102.18,359.09 103.17,357.12 104.15,355.12 105.14,353.1 106.13,351.05 107.12,348.99 108.11,346.9 109.1,344.79 110.08,342.66 111.07,340.51 112.06,338.34 113.05,336.16 114.04,333.99 115.03,331.85 116.01,329.77 117,327.75 117.99,325.84 118.98,324.04 119.97,322.37 120.95,320.87 121.94,319.54 122.93,318.41 123.92,317.49 124.91,316.75 125.9,316.16 126.88,315.71 127.87,315.37 128.86,315.13 129.85,314.95 130.84,314.82 131.83,314.76 132.81,314.79 133.8,314.95 134.79,315.26 135.78,315.77 136.77,316.49 137.76,317.45 138.74,318.68 139.73,320.13 140.72,321.77 141.71,323.53 142.7,325.39 143.69,327.29 144.67,329.2 145.66,331.08 146.65,332.96 147.64,334.83 148.63,336.73 149.62,338.65 150.6,340.61 151.59,342.63 152.58,344.71 153.57,346.87 154.56,349.12 155.54,351.47 156.53,353.9 157.52,356.39 158.51,358.89 159.5,361.36 160.49,363.77 161.47,366.07 162.46,368.24 163.45,370.23 164.44,372.04 165.43,373.7 166.42,375.25 167.4,376.7 168.39,378.09 169.38,379.45 170.37,380.82 171.36,382.21 172.35,383.67 173.33,385.23 174.32,386.9 175.31,388.69 176.3,390.57 177.29,392.51 178.28,394.5 179.26,396.5 180.25,398.5 181.24,400.47 182.23,402.38 183.22,404.22 184.2,405.98 185.19,407.66 186.18,409.28 187.17,410.84 188.16,412.34 189.15,413.79 190.13,415.19 191.12,416.55 192.11,417.87 193.1,419.16 194.09,420.43 195.08,421.67 196.06,422.9 197.05,424.11 198.04,425.32 199.03,426.53 200.02,427.74 201.01,428.97 201.99,430.2 202.98,431.46 203.97,432.72 204.96,433.99 205.95,435.28 206.94,436.57 207.92,437.87 208.91,439.18 209.9,440.49 210.89,441.81 211.88,443.13 212.86,444.45 213.85,445.77 214.84,447.09 215.83,448.41 216.82,449.73 217.81,451.05 218.79,452.36 219.78,453.66 220.77,454.96 221.76,456.24 222.75,457.52 223.74,458.79 224.72,460.05 225.71,461.29 226.7,462.52" fill="none" stroke="#77b43a" stroke-width="1.35" stroke-linejoin="round"/>
<polygon points="55.3,431.57 58.05,434.32 55.3,437.07 52.55,434.32" fill="#fff" stroke="#77b43a" stroke-width="0.95"/>
<polygon points="67.57,415.37 70.32,418.12 67.57,420.87 64.82,418.12" fill="#fff" stroke="#77b43a" stroke-width="0.95"/>
<polygon points="85.5,386.57 88.25,389.32 85.5,392.07 82.75,389.32" fill="#fff" stroke="#77b43a" stroke-width="0.95"/>
<polygon points="96.43,367.37 99.18,370.12 96.43,372.87 93.68,370.12" fill="#fff" stroke="#77b43a" stroke-width="0.95"/>
<polygon points="111.63,336.53 114.38,339.28 111.63,342.03 108.88,339.28" fill="#fff" stroke="#77b43a" stroke-width="0.95"/>
<polygon points="122.5,316.13 125.25,318.88 122.5,321.63 119.75,318.88" fill="#fff" stroke="#77b43a" stroke-width="0.95"/>
<polygon points="130.03,312.17 132.78,314.92 130.03,317.67 127.28,314.92" fill="#fff" stroke="#77b43a" stroke-width="0.95"/>
<polygon points="137.63,314.57 140.38,317.32 137.63,320.07 134.88,317.32" fill="#fff" stroke="#77b43a" stroke-width="0.95"/>
<polygon points="144.3,325.73 147.05,328.48 144.3,331.23 141.55,328.48" fill="#fff" stroke="#77b43a" stroke-width="0.95"/>
<polygon points="154.97,347.33 157.72,350.08 154.97,352.83 152.22,350.08" fill="#fff" stroke="#77b43a" stroke-width="0.95"/>
<polygon points="162.97,366.53 165.72,369.28 162.97,372.03 160.22,369.28" fill="#fff" stroke="#77b43a" stroke-width="0.95"/>
<polygon points="173.63,382.97 176.38,385.72 173.63,388.47 170.88,385.72" fill="#fff" stroke="#77b43a" stroke-width="0.95"/>
<polygon points="182.3,399.77 185.05,402.52 182.3,405.27 179.55,402.52" fill="#fff" stroke="#77b43a" stroke-width="0.95"/>
<polygon points="192.3,415.37 195.05,418.12 192.3,420.87 189.55,418.12" fill="#fff" stroke="#77b43a" stroke-width="0.95"/>
<polygon points="200.97,426.17 203.72,428.92 200.97,431.67 198.22,428.92" fill="#fff" stroke="#77b43a" stroke-width="0.95"/>
</g>
<line x1="40" y1="292" x2="253.5" y2="292" stroke="#7a7a7a" stroke-width="1.8"/>
<line x1="253.5" y1="292" x2="253.5" y2="436" stroke="#333" stroke-width="1"/>
<line x1="40.5" y1="291.5" x2="40.5" y2="437" stroke="#2a2a2a" stroke-width="1"/>
<line x1="40" y1="436.5" x2="253.5" y2="436.5" stroke="#2a2a2a" stroke-width="1"/>
<line x1="37.5" y1="292" x2="40" y2="292" stroke="#333" stroke-width="1"/>
<text x="36.5" y="295.7" text-anchor="end" class="tk">-2</text>
<line x1="40" y1="304" x2="41.5" y2="304" stroke="#333" stroke-width="0.8"/>
<line x1="37.5" y1="316" x2="40" y2="316" stroke="#333" stroke-width="1"/>
<text x="36.5" y="319.7" text-anchor="end" class="tk">-4</text>
<line x1="40" y1="328" x2="41.5" y2="328" stroke="#333" stroke-width="0.8"/>
<line x1="37.5" y1="340" x2="40" y2="340" stroke="#333" stroke-width="1"/>
<text x="36.5" y="343.7" text-anchor="end" class="tk">-6</text>
<line x1="40" y1="352" x2="41.5" y2="352" stroke="#333" stroke-width="0.8"/>
<line x1="37.5" y1="364" x2="40" y2="364" stroke="#333" stroke-width="1"/>
<text x="36.5" y="367.7" text-anchor="end" class="tk">-8</text>
<line x1="40" y1="376" x2="41.5" y2="376" stroke="#333" stroke-width="0.8"/>
<line x1="37.5" y1="388" x2="40" y2="388" stroke="#333" stroke-width="1"/>
<text x="36.5" y="391.7" text-anchor="end" class="tk">-10</text>
<line x1="40" y1="400" x2="41.5" y2="400" stroke="#333" stroke-width="0.8"/>
<line x1="37.5" y1="412" x2="40" y2="412" stroke="#333" stroke-width="1"/>
<text x="36.5" y="415.7" text-anchor="end" class="tk">-12</text>
<line x1="40" y1="424" x2="41.5" y2="424" stroke="#333" stroke-width="0.8"/>
<line x1="37.5" y1="436" x2="40" y2="436" stroke="#333" stroke-width="1"/>
<text x="36.5" y="439.7" text-anchor="end" class="tk">-14</text>
<line x1="53.5" y1="436" x2="53.5" y2="438.5" stroke="#333" stroke-width="1"/>
<text x="53.8" y="449.0" text-anchor="middle" class="tk">4.85</text>
<line x1="70.17" y1="436" x2="70.17" y2="434.5" stroke="#333" stroke-width="0.8"/>
<line x1="86.83" y1="436" x2="86.83" y2="438.5" stroke="#333" stroke-width="1"/>
<text x="87.13" y="449.0" text-anchor="middle" class="tk">4.90</text>
<line x1="103.5" y1="436" x2="103.5" y2="434.5" stroke="#333" stroke-width="0.8"/>
<line x1="120.17" y1="436" x2="120.17" y2="438.5" stroke="#333" stroke-width="1"/>
<text x="120.47" y="449.0" text-anchor="middle" class="tk">4.95</text>
<line x1="136.84" y1="436" x2="136.84" y2="434.5" stroke="#333" stroke-width="0.8"/>
<line x1="153.5" y1="436" x2="153.5" y2="438.5" stroke="#333" stroke-width="1"/>
<text x="153.8" y="449.0" text-anchor="middle" class="tk">5.00</text>
<line x1="170.17" y1="436" x2="170.17" y2="434.5" stroke="#333" stroke-width="0.8"/>
<line x1="186.83" y1="436" x2="186.83" y2="438.5" stroke="#333" stroke-width="1"/>
<text x="187.13" y="449.0" text-anchor="middle" class="tk">5.05</text>
<line x1="203.5" y1="436" x2="203.5" y2="434.5" stroke="#333" stroke-width="0.8"/>
<line x1="220.17" y1="436" x2="220.17" y2="438.5" stroke="#333" stroke-width="1"/>
<text x="220.47" y="449.0" text-anchor="middle" class="tk">5.10</text>
<line x1="236.84" y1="436" x2="236.84" y2="434.5" stroke="#333" stroke-width="0.8"/>
<line x1="253.5" y1="436" x2="253.5" y2="438.5" stroke="#333" stroke-width="1"/>
<text x="253.8" y="449.0" text-anchor="middle" class="tk">5.15</text>
<text x="147.6" y="465.7" text-anchor="middle" class="al">Frequency [GHz]</text>
<text transform="translate(17.6,364.4) rotate(-90)" text-anchor="middle" class="al" style="font-size:10.6px">S<tspan font-size="7.4" dy="2.5">21</tspan><tspan dy="-2.5"> [dB]</tspan></text>
<line x1="42" y1="300.3" x2="65.6" y2="300.3" stroke="#1f77c9" stroke-width="1.3"/>
<rect x="52.76" y="299.06" width="2.48" height="2.48" fill="#fff" stroke="#1f77c9" stroke-width="0.95"/>
<text x="67.6" y="303.7" class="lg">ε<tspan font-size="6.5" dy="2.4">r</tspan><tspan dy="-2.4">=1</tspan></text>
<line x1="42" y1="315.9" x2="65.6" y2="315.9" stroke="#e8592b" stroke-width="1.3"/>
<circle cx="54" cy="315.9" r="1.44" fill="#fff" stroke="#e8592b" stroke-width="0.95"/>
<text x="67.6" y="319.3" class="lg">ε<tspan font-size="6.5" dy="2.4">r</tspan><tspan dy="-2.4">=2</tspan></text>
<line x1="42" y1="331.5" x2="65.6" y2="331.5" stroke="#7e2f8e" stroke-width="1.3"/>
<polygon points="54,329.54 55.86,332.72 52.14,332.72" fill="#fff" stroke="#7e2f8e" stroke-width="0.95" stroke-linejoin="round"/>
<text x="67.6" y="334.9" class="lg">ε<tspan font-size="6.5" dy="2.4">r</tspan><tspan dy="-2.4">=2.1</tspan></text>
<line x1="42" y1="347.1" x2="65.6" y2="347.1" stroke="#f4b11f" stroke-width="1.3"/>
<polygon points="54,348.98 55.79,345.93 52.21,345.93" fill="#fff" stroke="#f4b11f" stroke-width="0.95" stroke-linejoin="round"/>
<text x="67.6" y="350.5" class="lg">ε<tspan font-size="6.5" dy="2.4">r</tspan><tspan dy="-2.4">=2.2</tspan></text>
<line x1="42" y1="362.7" x2="65.6" y2="362.7" stroke="#77b43a" stroke-width="1.3"/>
<polygon points="54,360.5 56.2,362.7 54,364.9 51.8,362.7" fill="#fff" stroke="#77b43a" stroke-width="0.95"/>
<text x="67.6" y="366.1" class="lg">ε<tspan font-size="6.5" dy="2.4">r</tspan><tspan dy="-2.4">=2.3</tspan></text>
<text x="138.8" y="484.3" text-anchor="middle" class="cap">(c)</text>
<clipPath id="clip278"><rect x="318" y="292" width="213.5" height="144"/></clipPath>
<g clip-path="url(#clip278)">
<polyline points="375.97,470.8 376.96,469.65 377.94,468.45 378.93,467.2 379.92,465.91 380.91,464.58 381.9,463.22 382.88,461.82 383.87,460.39 384.86,458.94 385.85,457.47 386.84,455.98 387.83,454.47 388.81,452.95 389.8,451.42 390.79,449.89 391.78,448.35 392.77,446.82 393.76,445.29 394.74,443.76 395.73,442.25 396.72,440.76 397.71,439.28 398.7,437.82 399.69,436.39 400.67,434.98 401.66,433.61 402.65,432.27 403.64,430.95 404.63,429.65 405.62,428.37 406.6,427.09 407.59,425.82 408.58,424.55 409.57,423.27 410.56,421.98 411.54,420.67 412.53,419.33 413.52,417.97 414.51,416.57 415.5,415.14 416.49,413.68 417.47,412.2 418.46,410.68 419.45,409.14 420.44,407.58 421.43,405.99 422.42,404.39 423.4,402.77 424.39,401.13 425.38,399.48 426.37,397.82 427.36,396.15 428.35,394.47 429.33,392.79 430.32,391.1 431.31,389.41 432.3,387.72 433.29,386.03 434.28,384.33 435.26,382.63 436.25,380.92 437.24,379.2 438.23,377.46 439.22,375.71 440.21,373.94 441.19,372.15 442.18,370.34 443.17,368.51 444.16,366.65 445.15,364.77 446.13,362.86 447.12,360.93 448.11,358.97 449.1,357 450.09,355 451.08,352.98 452.06,350.93 453.05,348.87 454.04,346.78 455.03,344.67 456.02,342.54 457.01,340.39 457.99,338.22 458.98,336.04 459.97,333.87 460.96,331.73 461.95,329.65 462.94,327.63 463.92,325.72 464.91,323.92 465.9,322.25 466.89,320.75 467.88,319.42 468.87,318.29 469.85,317.37 470.84,316.63 471.83,316.04 472.82,315.59 473.81,315.25 474.79,315.01 475.78,314.83 476.77,314.7 477.76,314.64 478.75,314.67 479.74,314.83 480.72,315.14 481.71,315.65 482.7,316.37 483.69,317.33 484.68,318.56 485.67,320.01 486.65,321.65 487.64,323.41 488.63,325.27 489.62,327.17 490.61,329.08 491.6,330.96 492.58,332.84 493.57,334.71 494.56,336.61 495.55,338.53 496.54,340.49 497.53,342.51 498.51,344.59 499.5,346.75 500.49,349 501.48,351.35 502.47,353.78 503.45,356.27 504.44,358.77 505.43,361.24 506.42,363.65 507.41,365.95 508.4,368.12 509.38,370.11 510.37,371.92 511.36,373.58 512.35,375.13 513.34,376.58 514.33,377.97 515.31,379.33 516.3,380.7 517.29,382.09 518.28,383.55 519.27,385.11 520.26,386.78 521.24,388.57 522.23,390.45 523.22,392.39 524.21,394.38 525.2,396.38 526.19,398.38 527.17,400.35 528.16,402.26 529.15,404.1 530.14,405.86 531.13,407.54 532.12,409.16 533.1,410.72 534.09,412.22 535.08,413.67 536.07,415.07 537.06,416.43 538.04,417.75 539.03,419.04 540.02,420.31 541.01,421.55 542,422.78 542.99,423.99 543.97,425.2 544.96,426.41 545.95,427.62 546.94,428.85 547.93,430.08 548.92,431.34 549.9,432.6 550.89,433.87 551.88,435.16 552.87,436.45 553.86,437.75 554.85,439.06 555.83,440.37 556.82,441.69 557.81,443.01 558.8,444.33 559.79,445.65 560.78,446.97 561.76,448.29 562.75,449.61 563.74,450.93 564.73,452.24 565.72,453.54 566.7,454.84 567.69,456.12 568.68,457.4 569.67,458.67 570.66,459.93 571.65,461.17 572.63,462.4" fill="none" stroke="#1f77c9" stroke-width="1.35" stroke-linejoin="round"/>
<rect x="399.68" y="432.65" width="3.1" height="3.1" fill="#fff" stroke="#1f77c9" stroke-width="0.95"/>
<rect x="411.95" y="416.45" width="3.1" height="3.1" fill="#fff" stroke="#1f77c9" stroke-width="0.95"/>
<rect x="429.88" y="387.65" width="3.1" height="3.1" fill="#fff" stroke="#1f77c9" stroke-width="0.95"/>
<rect x="440.82" y="368.45" width="3.1" height="3.1" fill="#fff" stroke="#1f77c9" stroke-width="0.95"/>
<rect x="456.02" y="337.61" width="3.1" height="3.1" fill="#fff" stroke="#1f77c9" stroke-width="0.95"/>
<rect x="466.88" y="317.21" width="3.1" height="3.1" fill="#fff" stroke="#1f77c9" stroke-width="0.95"/>
<rect x="474.42" y="313.25" width="3.1" height="3.1" fill="#fff" stroke="#1f77c9" stroke-width="0.95"/>
<rect x="482.02" y="315.65" width="3.1" height="3.1" fill="#fff" stroke="#1f77c9" stroke-width="0.95"/>
<rect x="488.68" y="326.81" width="3.1" height="3.1" fill="#fff" stroke="#1f77c9" stroke-width="0.95"/>
<rect x="499.35" y="348.41" width="3.1" height="3.1" fill="#fff" stroke="#1f77c9" stroke-width="0.95"/>
<rect x="507.35" y="367.61" width="3.1" height="3.1" fill="#fff" stroke="#1f77c9" stroke-width="0.95"/>
<rect x="518.02" y="384.05" width="3.1" height="3.1" fill="#fff" stroke="#1f77c9" stroke-width="0.95"/>
<rect x="526.68" y="400.85" width="3.1" height="3.1" fill="#fff" stroke="#1f77c9" stroke-width="0.95"/>
<rect x="536.68" y="416.45" width="3.1" height="3.1" fill="#fff" stroke="#1f77c9" stroke-width="0.95"/>
<rect x="545.35" y="427.25" width="3.1" height="3.1" fill="#fff" stroke="#1f77c9" stroke-width="0.95"/>
<polyline points="342.83,470.8 343.82,469.65 344.81,468.45 345.8,467.2 346.79,465.91 347.77,464.58 348.76,463.22 349.75,461.82 350.74,460.39 351.73,458.94 352.72,457.47 353.7,455.98 354.69,454.47 355.68,452.95 356.67,451.42 357.66,449.89 358.65,448.35 359.63,446.82 360.62,445.29 361.61,443.76 362.6,442.25 363.59,440.76 364.58,439.28 365.56,437.82 366.55,436.39 367.54,434.98 368.53,433.61 369.52,432.27 370.51,430.95 371.49,429.65 372.48,428.37 373.47,427.09 374.46,425.82 375.45,424.55 376.43,423.27 377.42,421.98 378.41,420.67 379.4,419.33 380.39,417.97 381.38,416.57 382.36,415.14 383.35,413.68 384.34,412.2 385.33,410.68 386.32,409.14 387.31,407.58 388.29,405.99 389.28,404.39 390.27,402.77 391.26,401.13 392.25,399.48 393.24,397.82 394.22,396.15 395.21,394.47 396.2,392.79 397.19,391.1 398.18,389.41 399.17,387.72 400.15,386.03 401.14,384.33 402.13,382.63 403.12,380.92 404.11,379.2 405.1,377.46 406.08,375.71 407.07,373.94 408.06,372.15 409.05,370.34 410.04,368.51 411.02,366.65 412.01,364.77 413,362.86 413.99,360.93 414.98,358.97 415.97,357 416.95,355 417.94,352.98 418.93,350.93 419.92,348.87 420.91,346.78 421.9,344.67 422.88,342.54 423.87,340.39 424.86,338.22 425.85,336.04 426.84,333.87 427.83,331.73 428.81,329.65 429.8,327.63 430.79,325.72 431.78,323.92 432.77,322.25 433.76,320.75 434.74,319.42 435.73,318.29 436.72,317.37 437.71,316.63 438.7,316.04 439.68,315.59 440.67,315.25 441.66,315.01 442.65,314.83 443.64,314.7 444.63,314.64 445.61,314.67 446.6,314.83 447.59,315.14 448.58,315.65 449.57,316.37 450.56,317.33 451.54,318.56 452.53,320.01 453.52,321.65 454.51,323.41 455.5,325.27 456.49,327.17 457.47,329.08 458.46,330.96 459.45,332.84 460.44,334.71 461.43,336.61 462.42,338.53 463.4,340.49 464.39,342.51 465.38,344.59 466.37,346.75 467.36,349 468.34,351.35 469.33,353.78 470.32,356.27 471.31,358.77 472.3,361.24 473.29,363.65 474.27,365.95 475.26,368.12 476.25,370.11 477.24,371.92 478.23,373.58 479.22,375.13 480.2,376.58 481.19,377.97 482.18,379.33 483.17,380.7 484.16,382.09 485.15,383.55 486.13,385.11 487.12,386.78 488.11,388.57 489.1,390.45 490.09,392.39 491.08,394.38 492.06,396.38 493.05,398.38 494.04,400.35 495.03,402.26 496.02,404.1 497.01,405.86 497.99,407.54 498.98,409.16 499.97,410.72 500.96,412.22 501.95,413.67 502.93,415.07 503.92,416.43 504.91,417.75 505.9,419.04 506.89,420.31 507.88,421.55 508.86,422.78 509.85,423.99 510.84,425.2 511.83,426.41 512.82,427.62 513.81,428.85 514.79,430.08 515.78,431.34 516.77,432.6 517.76,433.87 518.75,435.16 519.74,436.45 520.72,437.75 521.71,439.06 522.7,440.37 523.69,441.69 524.68,443.01 525.67,444.33 526.65,445.65 527.64,446.97 528.63,448.29 529.62,449.61 530.61,450.93 531.59,452.24 532.58,453.54 533.57,454.84 534.56,456.12 535.55,457.4 536.54,458.67 537.52,459.93 538.51,461.17 539.5,462.4" fill="none" stroke="#e8592b" stroke-width="1.35" stroke-linejoin="round"/>
<circle cx="368.1" cy="434.2" r="1.8" fill="#fff" stroke="#e8592b" stroke-width="0.95"/>
<circle cx="380.37" cy="418" r="1.8" fill="#fff" stroke="#e8592b" stroke-width="0.95"/>
<circle cx="398.3" cy="389.2" r="1.8" fill="#fff" stroke="#e8592b" stroke-width="0.95"/>
<circle cx="409.23" cy="370" r="1.8" fill="#fff" stroke="#e8592b" stroke-width="0.95"/>
<circle cx="424.43" cy="339.16" r="1.8" fill="#fff" stroke="#e8592b" stroke-width="0.95"/>
<circle cx="435.3" cy="318.76" r="1.8" fill="#fff" stroke="#e8592b" stroke-width="0.95"/>
<circle cx="442.83" cy="314.8" r="1.8" fill="#fff" stroke="#e8592b" stroke-width="0.95"/>
<circle cx="450.43" cy="317.2" r="1.8" fill="#fff" stroke="#e8592b" stroke-width="0.95"/>
<circle cx="457.1" cy="328.36" r="1.8" fill="#fff" stroke="#e8592b" stroke-width="0.95"/>
<circle cx="467.77" cy="349.96" r="1.8" fill="#fff" stroke="#e8592b" stroke-width="0.95"/>
<circle cx="475.77" cy="369.16" r="1.8" fill="#fff" stroke="#e8592b" stroke-width="0.95"/>
<circle cx="486.43" cy="385.6" r="1.8" fill="#fff" stroke="#e8592b" stroke-width="0.95"/>
<circle cx="495.1" cy="402.4" r="1.8" fill="#fff" stroke="#e8592b" stroke-width="0.95"/>
<circle cx="505.1" cy="418" r="1.8" fill="#fff" stroke="#e8592b" stroke-width="0.95"/>
<circle cx="513.77" cy="428.8" r="1.8" fill="#fff" stroke="#e8592b" stroke-width="0.95"/>
<polyline points="335.17,470.44 336.15,469.29 337.14,468.09 338.13,466.84 339.12,465.55 340.11,464.22 341.1,462.86 342.08,461.46 343.07,460.03 344.06,458.58 345.05,457.11 346.04,455.62 347.03,454.11 348.01,452.59 349,451.06 349.99,449.53 350.98,447.99 351.97,446.46 352.96,444.93 353.94,443.4 354.93,441.89 355.92,440.4 356.91,438.92 357.9,437.46 358.89,436.03 359.87,434.62 360.86,433.25 361.85,431.91 362.84,430.59 363.83,429.29 364.82,428.01 365.8,426.73 366.79,425.46 367.78,424.19 368.77,422.91 369.76,421.62 370.74,420.31 371.73,418.97 372.72,417.61 373.71,416.21 374.7,414.78 375.69,413.32 376.67,411.84 377.66,410.32 378.65,408.78 379.64,407.22 380.63,405.63 381.62,404.03 382.6,402.41 383.59,400.77 384.58,399.12 385.57,397.46 386.56,395.79 387.55,394.11 388.53,392.43 389.52,390.74 390.51,389.05 391.5,387.36 392.49,385.67 393.48,383.97 394.46,382.27 395.45,380.56 396.44,378.84 397.43,377.1 398.42,375.35 399.4,373.58 400.39,371.79 401.38,369.98 402.37,368.15 403.36,366.29 404.35,364.41 405.33,362.5 406.32,360.57 407.31,358.61 408.3,356.64 409.29,354.64 410.28,352.62 411.26,350.57 412.25,348.51 413.24,346.42 414.23,344.31 415.22,342.18 416.21,340.03 417.19,337.86 418.18,335.68 419.17,333.51 420.16,331.37 421.15,329.29 422.14,327.27 423.12,325.36 424.11,323.56 425.1,321.89 426.09,320.39 427.08,319.06 428.06,317.93 429.05,317.01 430.04,316.27 431.03,315.68 432.02,315.23 433.01,314.89 433.99,314.65 434.98,314.47 435.97,314.34 436.96,314.28 437.95,314.31 438.94,314.47 439.92,314.78 440.91,315.29 441.9,316.01 442.89,316.97 443.88,318.2 444.87,319.65 445.85,321.29 446.84,323.05 447.83,324.91 448.82,326.81 449.81,328.72 450.8,330.6 451.78,332.48 452.77,334.35 453.76,336.25 454.75,338.17 455.74,340.13 456.73,342.15 457.71,344.23 458.7,346.39 459.69,348.64 460.68,350.99 461.67,353.42 462.65,355.91 463.64,358.41 464.63,360.88 465.62,363.29 466.61,365.59 467.6,367.76 468.58,369.75 469.57,371.56 470.56,373.22 471.55,374.77 472.54,376.22 473.53,377.61 474.51,378.97 475.5,380.34 476.49,381.73 477.48,383.19 478.47,384.75 479.46,386.42 480.44,388.21 481.43,390.09 482.42,392.03 483.41,394.02 484.4,396.02 485.39,398.02 486.37,399.99 487.36,401.9 488.35,403.74 489.34,405.5 490.33,407.18 491.31,408.8 492.3,410.36 493.29,411.86 494.28,413.31 495.27,414.71 496.26,416.07 497.24,417.39 498.23,418.68 499.22,419.95 500.21,421.19 501.2,422.42 502.19,423.63 503.17,424.84 504.16,426.05 505.15,427.26 506.14,428.49 507.13,429.72 508.12,430.98 509.1,432.24 510.09,433.51 511.08,434.8 512.07,436.09 513.06,437.39 514.05,438.7 515.03,440.01 516.02,441.33 517.01,442.65 518,443.97 518.99,445.29 519.97,446.61 520.96,447.93 521.95,449.25 522.94,450.57 523.93,451.88 524.92,453.18 525.9,454.48 526.89,455.76 527.88,457.04 528.87,458.31 529.86,459.57 530.85,460.81 531.83,462.04" fill="none" stroke="#7e2f8e" stroke-width="1.35" stroke-linejoin="round"/>
<polygon points="360.43,431.39 362.76,435.36 358.11,435.36" fill="#fff" stroke="#7e2f8e" stroke-width="0.95" stroke-linejoin="round"/>
<polygon points="372.7,415.19 375.03,419.16 370.37,419.16" fill="#fff" stroke="#7e2f8e" stroke-width="0.95" stroke-linejoin="round"/>
<polygon points="390.63,386.39 392.96,390.36 388.31,390.36" fill="#fff" stroke="#7e2f8e" stroke-width="0.95" stroke-linejoin="round"/>
<polygon points="401.57,367.19 403.89,371.16 399.24,371.16" fill="#fff" stroke="#7e2f8e" stroke-width="0.95" stroke-linejoin="round"/>
<polygon points="416.77,336.35 419.09,340.32 414.44,340.32" fill="#fff" stroke="#7e2f8e" stroke-width="0.95" stroke-linejoin="round"/>
<polygon points="427.63,315.95 429.96,319.92 425.31,319.92" fill="#fff" stroke="#7e2f8e" stroke-width="0.95" stroke-linejoin="round"/>
<polygon points="435.17,311.99 437.49,315.96 432.84,315.96" fill="#fff" stroke="#7e2f8e" stroke-width="0.95" stroke-linejoin="round"/>
<polygon points="442.77,314.39 445.09,318.36 440.44,318.36" fill="#fff" stroke="#7e2f8e" stroke-width="0.95" stroke-linejoin="round"/>
<polygon points="449.43,325.55 451.76,329.52 447.11,329.52" fill="#fff" stroke="#7e2f8e" stroke-width="0.95" stroke-linejoin="round"/>
<polygon points="460.1,347.15 462.43,351.12 457.77,351.12" fill="#fff" stroke="#7e2f8e" stroke-width="0.95" stroke-linejoin="round"/>
<polygon points="468.1,366.35 470.43,370.32 465.77,370.32" fill="#fff" stroke="#7e2f8e" stroke-width="0.95" stroke-linejoin="round"/>
<polygon points="478.77,382.79 481.09,386.76 476.44,386.76" fill="#fff" stroke="#7e2f8e" stroke-width="0.95" stroke-linejoin="round"/>
<polygon points="487.43,399.59 489.76,403.56 485.11,403.56" fill="#fff" stroke="#7e2f8e" stroke-width="0.95" stroke-linejoin="round"/>
<polygon points="497.43,415.19 499.76,419.16 495.11,419.16" fill="#fff" stroke="#7e2f8e" stroke-width="0.95" stroke-linejoin="round"/>
<polygon points="506.1,425.99 508.43,429.96 503.77,429.96" fill="#fff" stroke="#7e2f8e" stroke-width="0.95" stroke-linejoin="round"/>
<polyline points="329.5,470.56 330.49,469.41 331.48,468.21 332.46,466.96 333.45,465.67 334.44,464.34 335.43,462.98 336.42,461.58 337.41,460.15 338.39,458.7 339.38,457.23 340.37,455.74 341.36,454.23 342.35,452.71 343.34,451.18 344.32,449.65 345.31,448.11 346.3,446.58 347.29,445.05 348.28,443.52 349.27,442.01 350.25,440.52 351.24,439.04 352.23,437.58 353.22,436.15 354.21,434.74 355.2,433.37 356.18,432.03 357.17,430.71 358.16,429.41 359.15,428.13 360.14,426.85 361.12,425.58 362.11,424.31 363.1,423.03 364.09,421.74 365.08,420.43 366.07,419.09 367.05,417.73 368.04,416.33 369.03,414.9 370.02,413.44 371.01,411.96 372,410.44 372.98,408.9 373.97,407.34 374.96,405.75 375.95,404.15 376.94,402.53 377.93,400.89 378.91,399.24 379.9,397.58 380.89,395.91 381.88,394.23 382.87,392.55 383.86,390.86 384.84,389.17 385.83,387.48 386.82,385.79 387.81,384.09 388.8,382.39 389.79,380.68 390.77,378.96 391.76,377.22 392.75,375.47 393.74,373.7 394.73,371.91 395.71,370.1 396.7,368.27 397.69,366.41 398.68,364.53 399.67,362.62 400.66,360.69 401.64,358.73 402.63,356.76 403.62,354.76 404.61,352.74 405.6,350.69 406.59,348.63 407.57,346.54 408.56,344.43 409.55,342.3 410.54,340.15 411.53,337.98 412.52,335.8 413.5,333.63 414.49,331.49 415.48,329.41 416.47,327.39 417.46,325.48 418.45,323.68 419.43,322.01 420.42,320.51 421.41,319.18 422.4,318.05 423.39,317.13 424.37,316.39 425.36,315.8 426.35,315.35 427.34,315.01 428.33,314.77 429.32,314.59 430.3,314.46 431.29,314.4 432.28,314.43 433.27,314.59 434.26,314.9 435.25,315.41 436.23,316.13 437.22,317.09 438.21,318.32 439.2,319.77 440.19,321.41 441.18,323.17 442.16,325.03 443.15,326.93 444.14,328.84 445.13,330.72 446.12,332.6 447.11,334.47 448.09,336.37 449.08,338.29 450.07,340.25 451.06,342.27 452.05,344.35 453.03,346.51 454.02,348.76 455.01,351.11 456,353.54 456.99,356.03 457.98,358.53 458.96,361 459.95,363.41 460.94,365.71 461.93,367.88 462.92,369.87 463.91,371.68 464.89,373.34 465.88,374.89 466.87,376.34 467.86,377.73 468.85,379.09 469.84,380.46 470.82,381.85 471.81,383.31 472.8,384.87 473.79,386.54 474.78,388.33 475.77,390.21 476.75,392.15 477.74,394.14 478.73,396.14 479.72,398.14 480.71,400.11 481.7,402.02 482.68,403.86 483.67,405.62 484.66,407.3 485.65,408.92 486.64,410.48 487.62,411.98 488.61,413.43 489.6,414.83 490.59,416.19 491.58,417.51 492.57,418.8 493.55,420.07 494.54,421.31 495.53,422.54 496.52,423.75 497.51,424.96 498.5,426.17 499.48,427.38 500.47,428.61 501.46,429.84 502.45,431.1 503.44,432.36 504.43,433.63 505.41,434.92 506.4,436.21 507.39,437.51 508.38,438.82 509.37,440.13 510.36,441.45 511.34,442.77 512.33,444.09 513.32,445.41 514.31,446.73 515.3,448.05 516.28,449.37 517.27,450.69 518.26,452 519.25,453.3 520.24,454.6 521.23,455.88 522.21,457.16 523.2,458.43 524.19,459.69 525.18,460.93 526.17,462.16" fill="none" stroke="#f4b11f" stroke-width="1.35" stroke-linejoin="round"/>
<polygon points="354.77,436.31 357,432.5 352.53,432.5" fill="#fff" stroke="#f4b11f" stroke-width="0.95" stroke-linejoin="round"/>
<polygon points="367.03,420.11 369.27,416.3 364.8,416.3" fill="#fff" stroke="#f4b11f" stroke-width="0.95" stroke-linejoin="round"/>
<polygon points="384.97,391.31 387.2,387.5 382.73,387.5" fill="#fff" stroke="#f4b11f" stroke-width="0.95" stroke-linejoin="round"/>
<polygon points="395.9,372.11 398.13,368.3 393.67,368.3" fill="#fff" stroke="#f4b11f" stroke-width="0.95" stroke-linejoin="round"/>
<polygon points="411.1,341.27 413.33,337.46 408.87,337.46" fill="#fff" stroke="#f4b11f" stroke-width="0.95" stroke-linejoin="round"/>
<polygon points="421.97,320.87 424.2,317.06 419.73,317.06" fill="#fff" stroke="#f4b11f" stroke-width="0.95" stroke-linejoin="round"/>
<polygon points="429.5,316.91 431.73,313.1 427.27,313.1" fill="#fff" stroke="#f4b11f" stroke-width="0.95" stroke-linejoin="round"/>
<polygon points="437.1,319.31 439.33,315.5 434.87,315.5" fill="#fff" stroke="#f4b11f" stroke-width="0.95" stroke-linejoin="round"/>
<polygon points="443.77,330.47 446,326.66 441.53,326.66" fill="#fff" stroke="#f4b11f" stroke-width="0.95" stroke-linejoin="round"/>
<polygon points="454.43,352.07 456.67,348.26 452.2,348.26" fill="#fff" stroke="#f4b11f" stroke-width="0.95" stroke-linejoin="round"/>
<polygon points="462.43,371.27 464.67,367.46 460.2,367.46" fill="#fff" stroke="#f4b11f" stroke-width="0.95" stroke-linejoin="round"/>
<polygon points="473.1,387.71 475.33,383.9 470.87,383.9" fill="#fff" stroke="#f4b11f" stroke-width="0.95" stroke-linejoin="round"/>
<polygon points="481.77,404.51 484,400.7 479.53,400.7" fill="#fff" stroke="#f4b11f" stroke-width="0.95" stroke-linejoin="round"/>
<polygon points="491.77,420.11 494,416.3 489.53,416.3" fill="#fff" stroke="#f4b11f" stroke-width="0.95" stroke-linejoin="round"/>
<polygon points="500.43,430.91 502.67,427.1 498.2,427.1" fill="#fff" stroke="#f4b11f" stroke-width="0.95" stroke-linejoin="round"/>
<polyline points="324.03,470.8 325.02,469.65 326.01,468.45 327,467.2 327.99,465.91 328.97,464.58 329.96,463.22 330.95,461.82 331.94,460.39 332.93,458.94 333.92,457.47 334.9,455.98 335.89,454.47 336.88,452.95 337.87,451.42 338.86,449.89 339.85,448.35 340.83,446.82 341.82,445.29 342.81,443.76 343.8,442.25 344.79,440.76 345.78,439.28 346.76,437.82 347.75,436.39 348.74,434.98 349.73,433.61 350.72,432.27 351.71,430.95 352.69,429.65 353.68,428.37 354.67,427.09 355.66,425.82 356.65,424.55 357.63,423.27 358.62,421.98 359.61,420.67 360.6,419.33 361.59,417.97 362.58,416.57 363.56,415.14 364.55,413.68 365.54,412.2 366.53,410.68 367.52,409.14 368.51,407.58 369.49,405.99 370.48,404.39 371.47,402.77 372.46,401.13 373.45,399.48 374.44,397.82 375.42,396.15 376.41,394.47 377.4,392.79 378.39,391.1 379.38,389.41 380.37,387.72 381.35,386.03 382.34,384.33 383.33,382.63 384.32,380.92 385.31,379.2 386.29,377.46 387.28,375.71 388.27,373.94 389.26,372.15 390.25,370.34 391.24,368.51 392.22,366.65 393.21,364.77 394.2,362.86 395.19,360.93 396.18,358.97 397.17,357 398.15,355 399.14,352.98 400.13,350.93 401.12,348.87 402.11,346.78 403.1,344.67 404.08,342.54 405.07,340.39 406.06,338.22 407.05,336.04 408.04,333.87 409.03,331.73 410.01,329.65 411,327.63 411.99,325.72 412.98,323.92 413.97,322.25 414.96,320.75 415.94,319.42 416.93,318.29 417.92,317.37 418.91,316.63 419.9,316.04 420.88,315.59 421.87,315.25 422.86,315.01 423.85,314.83 424.84,314.7 425.83,314.64 426.81,314.67 427.8,314.83 428.79,315.14 429.78,315.65 430.77,316.37 431.76,317.33 432.74,318.56 433.73,320.01 434.72,321.65 435.71,323.41 436.7,325.27 437.69,327.17 438.67,329.08 439.66,330.96 440.65,332.84 441.64,334.71 442.63,336.61 443.62,338.53 444.6,340.49 445.59,342.51 446.58,344.59 447.57,346.75 448.56,349 449.54,351.35 450.53,353.78 451.52,356.27 452.51,358.77 453.5,361.24 454.49,363.65 455.47,365.95 456.46,368.12 457.45,370.11 458.44,371.92 459.43,373.58 460.42,375.13 461.4,376.58 462.39,377.97 463.38,379.33 464.37,380.7 465.36,382.09 466.35,383.55 467.33,385.11 468.32,386.78 469.31,388.57 470.3,390.45 471.29,392.39 472.28,394.38 473.26,396.38 474.25,398.38 475.24,400.35 476.23,402.26 477.22,404.1 478.2,405.86 479.19,407.54 480.18,409.16 481.17,410.72 482.16,412.22 483.15,413.67 484.13,415.07 485.12,416.43 486.11,417.75 487.1,419.04 488.09,420.31 489.08,421.55 490.06,422.78 491.05,423.99 492.04,425.2 493.03,426.41 494.02,427.62 495.01,428.85 495.99,430.08 496.98,431.34 497.97,432.6 498.96,433.87 499.95,435.16 500.94,436.45 501.92,437.75 502.91,439.06 503.9,440.37 504.89,441.69 505.88,443.01 506.87,444.33 507.85,445.65 508.84,446.97 509.83,448.29 510.82,449.61 511.81,450.93 512.79,452.24 513.78,453.54 514.77,454.84 515.76,456.12 516.75,457.4 517.74,458.67 518.72,459.93 519.71,461.17 520.7,462.4" fill="none" stroke="#77b43a" stroke-width="1.35" stroke-linejoin="round"/>
<polygon points="349.3,431.45 352.05,434.2 349.3,436.95 346.55,434.2" fill="#fff" stroke="#77b43a" stroke-width="0.95"/>
<polygon points="361.57,415.25 364.32,418 361.57,420.75 358.82,418" fill="#fff" stroke="#77b43a" stroke-width="0.95"/>
<polygon points="379.5,386.45 382.25,389.2 379.5,391.95 376.75,389.2" fill="#fff" stroke="#77b43a" stroke-width="0.95"/>
<polygon points="390.43,367.25 393.18,370 390.43,372.75 387.68,370" fill="#fff" stroke="#77b43a" stroke-width="0.95"/>
<polygon points="405.63,336.41 408.38,339.16 405.63,341.91 402.88,339.16" fill="#fff" stroke="#77b43a" stroke-width="0.95"/>
<polygon points="416.5,316.01 419.25,318.76 416.5,321.51 413.75,318.76" fill="#fff" stroke="#77b43a" stroke-width="0.95"/>
<polygon points="424.03,312.05 426.78,314.8 424.03,317.55 421.28,314.8" fill="#fff" stroke="#77b43a" stroke-width="0.95"/>
<polygon points="431.63,314.45 434.38,317.2 431.63,319.95 428.88,317.2" fill="#fff" stroke="#77b43a" stroke-width="0.95"/>
<polygon points="438.3,325.61 441.05,328.36 438.3,331.11 435.55,328.36" fill="#fff" stroke="#77b43a" stroke-width="0.95"/>
<polygon points="448.97,347.21 451.72,349.96 448.97,352.71 446.22,349.96" fill="#fff" stroke="#77b43a" stroke-width="0.95"/>
<polygon points="456.97,366.41 459.72,369.16 456.97,371.91 454.22,369.16" fill="#fff" stroke="#77b43a" stroke-width="0.95"/>
<polygon points="467.63,382.85 470.38,385.6 467.63,388.35 464.88,385.6" fill="#fff" stroke="#77b43a" stroke-width="0.95"/>
<polygon points="476.3,399.65 479.05,402.4 476.3,405.15 473.55,402.4" fill="#fff" stroke="#77b43a" stroke-width="0.95"/>
<polygon points="486.3,415.25 489.05,418 486.3,420.75 483.55,418" fill="#fff" stroke="#77b43a" stroke-width="0.95"/>
<polygon points="494.97,426.05 497.72,428.8 494.97,431.55 492.22,428.8" fill="#fff" stroke="#77b43a" stroke-width="0.95"/>
</g>
<line x1="318" y1="292" x2="531.5" y2="292" stroke="#7a7a7a" stroke-width="1.8"/>
<line x1="531.5" y1="292" x2="531.5" y2="436" stroke="#333" stroke-width="1"/>
<line x1="318.5" y1="291.5" x2="318.5" y2="437" stroke="#2a2a2a" stroke-width="1"/>
<line x1="318" y1="436.5" x2="531.5" y2="436.5" stroke="#2a2a2a" stroke-width="1"/>
<line x1="315.5" y1="292" x2="318" y2="292" stroke="#333" stroke-width="1"/>
<text x="314.5" y="295.7" text-anchor="end" class="tk">-2</text>
<line x1="318" y1="304" x2="319.5" y2="304" stroke="#333" stroke-width="0.8"/>
<line x1="315.5" y1="316" x2="318" y2="316" stroke="#333" stroke-width="1"/>
<text x="314.5" y="319.7" text-anchor="end" class="tk">-4</text>
<line x1="318" y1="328" x2="319.5" y2="328" stroke="#333" stroke-width="0.8"/>
<line x1="315.5" y1="340" x2="318" y2="340" stroke="#333" stroke-width="1"/>
<text x="314.5" y="343.7" text-anchor="end" class="tk">-6</text>
<line x1="318" y1="352" x2="319.5" y2="352" stroke="#333" stroke-width="0.8"/>
<line x1="315.5" y1="364" x2="318" y2="364" stroke="#333" stroke-width="1"/>
<text x="314.5" y="367.7" text-anchor="end" class="tk">-8</text>
<line x1="318" y1="376" x2="319.5" y2="376" stroke="#333" stroke-width="0.8"/>
<line x1="315.5" y1="388" x2="318" y2="388" stroke="#333" stroke-width="1"/>
<text x="314.5" y="391.7" text-anchor="end" class="tk">-10</text>
<line x1="318" y1="400" x2="319.5" y2="400" stroke="#333" stroke-width="0.8"/>
<line x1="315.5" y1="412" x2="318" y2="412" stroke="#333" stroke-width="1"/>
<text x="314.5" y="415.7" text-anchor="end" class="tk">-12</text>
<line x1="318" y1="424" x2="319.5" y2="424" stroke="#333" stroke-width="0.8"/>
<line x1="315.5" y1="436" x2="318" y2="436" stroke="#333" stroke-width="1"/>
<text x="314.5" y="439.7" text-anchor="end" class="tk">-14</text>
<line x1="331.5" y1="436" x2="331.5" y2="438.5" stroke="#333" stroke-width="1"/>
<text x="331.8" y="449.0" text-anchor="middle" class="tk">4.85</text>
<line x1="348.17" y1="436" x2="348.17" y2="434.5" stroke="#333" stroke-width="0.8"/>
<line x1="364.83" y1="436" x2="364.83" y2="438.5" stroke="#333" stroke-width="1"/>
<text x="365.13" y="449.0" text-anchor="middle" class="tk">4.90</text>
<line x1="381.5" y1="436" x2="381.5" y2="434.5" stroke="#333" stroke-width="0.8"/>
<line x1="398.17" y1="436" x2="398.17" y2="438.5" stroke="#333" stroke-width="1"/>
<text x="398.47" y="449.0" text-anchor="middle" class="tk">4.95</text>
<line x1="414.84" y1="436" x2="414.84" y2="434.5" stroke="#333" stroke-width="0.8"/>
<line x1="431.5" y1="436" x2="431.5" y2="438.5" stroke="#333" stroke-width="1"/>
<text x="431.8" y="449.0" text-anchor="middle" class="tk">5.00</text>
<line x1="448.17" y1="436" x2="448.17" y2="434.5" stroke="#333" stroke-width="0.8"/>
<line x1="464.83" y1="436" x2="464.83" y2="438.5" stroke="#333" stroke-width="1"/>
<text x="465.13" y="449.0" text-anchor="middle" class="tk">5.05</text>
<line x1="481.5" y1="436" x2="481.5" y2="434.5" stroke="#333" stroke-width="0.8"/>
<line x1="498.17" y1="436" x2="498.17" y2="438.5" stroke="#333" stroke-width="1"/>
<text x="498.47" y="449.0" text-anchor="middle" class="tk">5.10</text>
<line x1="514.84" y1="436" x2="514.84" y2="434.5" stroke="#333" stroke-width="0.8"/>
<line x1="531.5" y1="436" x2="531.5" y2="438.5" stroke="#333" stroke-width="1"/>
<text x="531.8" y="449.0" text-anchor="middle" class="tk">5.15</text>
<text x="425.6" y="465.7" text-anchor="middle" class="al">Frequency [GHz]</text>
<text transform="translate(295.6,364.4) rotate(-90)" text-anchor="middle" class="al" style="font-size:10.6px">S<tspan font-size="7.4" dy="2.5">21</tspan><tspan dy="-2.5"> [dB]</tspan></text>
<line x1="320" y1="300.3" x2="343.6" y2="300.3" stroke="#1f77c9" stroke-width="1.3"/>
<rect x="330.76" y="299.06" width="2.48" height="2.48" fill="#fff" stroke="#1f77c9" stroke-width="0.95"/>
<text x="345.6" y="303.7" class="lg">ε<tspan font-size="6.5" dy="2.4">r</tspan><tspan dy="-2.4">=1</tspan></text>
<line x1="320" y1="315.9" x2="343.6" y2="315.9" stroke="#e8592b" stroke-width="1.3"/>
<circle cx="332" cy="315.9" r="1.44" fill="#fff" stroke="#e8592b" stroke-width="0.95"/>
<text x="345.6" y="319.3" class="lg">ε<tspan font-size="6.5" dy="2.4">r</tspan><tspan dy="-2.4">=2</tspan></text>
<line x1="320" y1="331.5" x2="343.6" y2="331.5" stroke="#7e2f8e" stroke-width="1.3"/>
<polygon points="332,329.54 333.86,332.72 330.14,332.72" fill="#fff" stroke="#7e2f8e" stroke-width="0.95" stroke-linejoin="round"/>
<text x="345.6" y="334.9" class="lg">ε<tspan font-size="6.5" dy="2.4">r</tspan><tspan dy="-2.4">=2.1</tspan></text>
<line x1="320" y1="347.1" x2="343.6" y2="347.1" stroke="#f4b11f" stroke-width="1.3"/>
<polygon points="332,348.98 333.79,345.93 330.21,345.93" fill="#fff" stroke="#f4b11f" stroke-width="0.95" stroke-linejoin="round"/>
<text x="345.6" y="350.5" class="lg">ε<tspan font-size="6.5" dy="2.4">r</tspan><tspan dy="-2.4">=2.2</tspan></text>
<line x1="320" y1="362.7" x2="343.6" y2="362.7" stroke="#77b43a" stroke-width="1.3"/>
<polygon points="332,360.5 334.2,362.7 332,364.9 329.8,362.7" fill="#fff" stroke="#77b43a" stroke-width="0.95"/>
<text x="345.6" y="366.1" class="lg">ε<tspan font-size="6.5" dy="2.4">r</tspan><tspan dy="-2.4">=2.3</tspan></text>
<text x="418.8" y="484.3" text-anchor="middle" class="cap">(d)</text>
</svg>
</body></html>
